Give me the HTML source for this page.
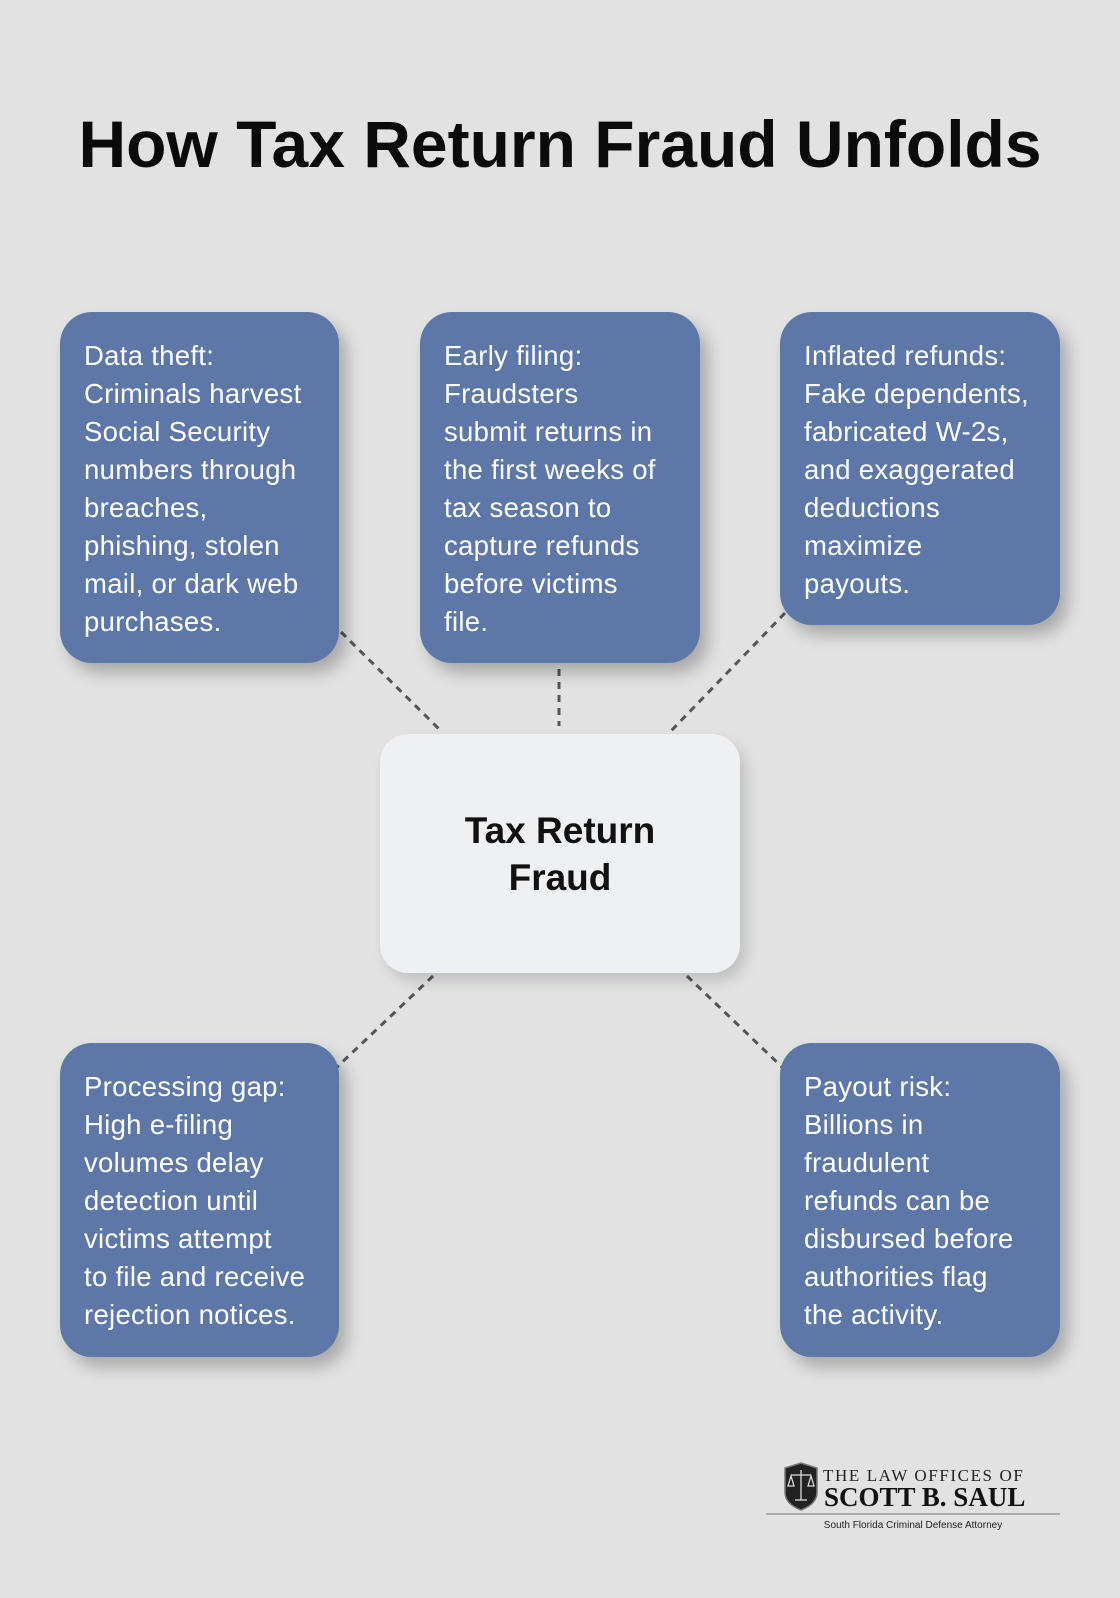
<!DOCTYPE html>
<html><head><meta charset="utf-8"><style>
html,body{margin:0;padding:0}
body{width:1120px;height:1598px;background:#e1e2e1;position:relative;overflow:hidden;font-family:"Liberation Sans",sans-serif}
h1{position:absolute;top:106px;left:0;width:1120px;text-align:center;margin:0;font-size:66px;font-weight:bold;color:#0b0b0b}
.b{position:absolute;background:#5d77a8;border-radius:32px;box-shadow:8px 10px 16px rgba(0,0,0,0.25);color:#fff;font-size:27.5px;letter-spacing:0.3px;line-height:38px;padding:25px 0 0 24px;box-sizing:border-box;white-space:nowrap}
.c{position:absolute;left:380px;top:734px;width:360px;height:239px;background:#eff0f2;border-radius:28px;box-shadow:6px 8px 14px rgba(0,0,0,0.15);text-align:center;font-weight:bold;font-size:37px;line-height:47px;color:#111;padding-top:73px;box-sizing:border-box}
svg{position:absolute;left:0;top:0}
</style></head><body>
<h1>How Tax Return Fraud Unfolds</h1>
<svg width="1120" height="1598"><g stroke="#555" stroke-width="3" stroke-dasharray="7,6" fill="none">
<line x1="341" y1="632" x2="442" y2="732"/>
<line x1="559" y1="669" x2="559" y2="726"/>
<line x1="785" y1="613" x2="670" y2="732"/>
<line x1="433" y1="976" x2="336" y2="1068"/>
<line x1="687" y1="976" x2="783" y2="1068"/>
</g></svg>
<div class="b" style="left:60px;top:312px;width:279px;height:351px">Data theft:<br>Criminals harvest<br>Social Security<br>numbers through<br>breaches,<br>phishing, stolen<br>mail, or dark web<br>purchases.</div>
<div class="b" style="left:420px;top:312px;width:280px;height:351px">Early filing:<br>Fraudsters<br>submit returns in<br>the first weeks of<br>tax season to<br>capture refunds<br>before victims<br>file.</div>
<div class="b" style="left:780px;top:312px;width:280px;height:313px">Inflated refunds:<br>Fake dependents,<br>fabricated W-2s,<br>and exaggerated<br>deductions<br>maximize<br>payouts.</div>
<div class="c">Tax Return<br>Fraud</div>
<div class="b" style="left:60px;top:1043px;width:279px;height:314px">Processing gap:<br>High e-filing<br>volumes delay<br>detection until<br>victims attempt<br>to file and receive<br>rejection notices.</div>
<div class="b" style="left:780px;top:1043px;width:280px;height:314px">Payout risk:<br>Billions in<br>fraudulent<br>refunds can be<br>disbursed before<br>authorities flag<br>the activity.</div>
<svg width="1120" height="1598" style="pointer-events:none">
<path d="M785 1468 L801 1463 L817 1468 L817 1492 Q817 1504 801 1510 Q785 1504 785 1492 Z" fill="#222" stroke="#777" stroke-width="1.5"/>
<g stroke="#ddd" stroke-width="1.3" fill="none"><line x1="801" y1="1470" x2="801" y2="1500"/><line x1="791" y1="1475" x2="811" y2="1475"/><path d="M788 1486 L791 1476 L794 1486 Z"/><path d="M808 1486 L811 1476 L814 1486 Z"/><line x1="795" y1="1500" x2="807" y2="1500"/></g>
<line x1="766" y1="1514" x2="1060" y2="1514" stroke="#777" stroke-width="1"/>
<text x="823" y="1481" font-family="Liberation Serif" font-size="17" fill="#222" letter-spacing="1.6">THE LAW OFFICES OF</text>
<text x="824" y="1506" font-family="Liberation Serif" font-size="27" font-weight="bold" fill="#111">SCOTT B. SAUL</text>
<text x="913" y="1528" font-family="Liberation Sans" font-size="10" fill="#222" text-anchor="middle">South Florida Criminal Defense Attorney</text>
</svg>
</body></html>
